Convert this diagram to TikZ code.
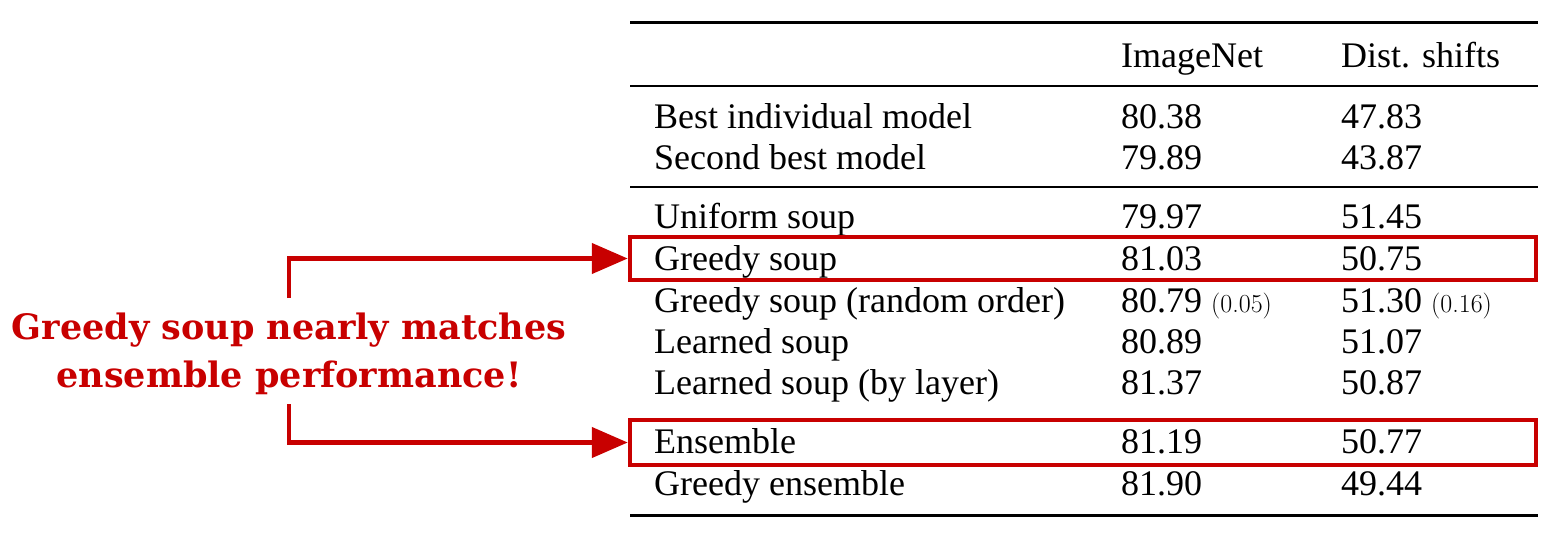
\documentclass[tikz,border=0pt]{standalone}
\usepackage{fontspec}
\newfontfamily\tms{Liberation Serif}
\newfontfamily\slab{DejaVu Serif}
\usetikzlibrary{arrows.meta}
\definecolor{rd}{RGB}{200,0,0}
\begin{document}
\begin{tikzpicture}[x=1pt,y=-1pt,
  cell/.style={anchor=base west,inner sep=0pt,font=\tms\fontsize{36}{40}\selectfont},
  redbox/.style={draw=rd,line width=4.5pt,minimum width=906pt,inner sep=0pt},
  callarrow/.style={draw=rd,line width=4.5pt,-{Triangle[length=36pt,width=30pt]}}]
\useasboundingbox (0,0) rectangle (1564,544);
\draw[line width=3pt] (630,22) -- (1538,22);
\draw[line width=2pt] (630,86) -- (1538,86);
\draw[line width=2pt] (630,187) -- (1538,187);
\draw[line width=3pt] (630,515) -- (1538,515);
\newcommand\sml[1]{{\normalfont\fontsize{26}{30}\selectfont #1}}
\node[cell] (h1) at (1121,67) {ImageNet};
\node[cell] (h2) at (1341,67) {Dist. shifts};
\foreach \y/\n/\a/\b [count=\i] in {
 128/Best individual model/80.38/47.83,
 169/Second best model/79.89/43.87,
 228/Uniform soup/79.97/51.45,
 270/Greedy soup/81.03/50.75,
 312/Greedy soup (random order)/{80.79 \sml{(0.05)}}/{51.30 \sml{(0.16)}},
 353/Learned soup/80.89/51.07,
 394/Learned soup (by layer)/81.37/50.87,
 453/Ensemble/81.19/50.77,
 495/Greedy ensemble/81.90/49.44}{
 \node[cell] (n\i) at (654,\y) {\n};
 \node[cell] (a\i) at (1121,\y) {\a};
 \node[cell] (b\i) at (1341,\y) {\b};
}
\node[redbox,minimum height=43pt] (gbox) at (1083,258.5) {};
\node[redbox,minimum height=45pt] (ebox) at (1083,442.5) {};
\node[text=rd,align=center,font=\slab\bfseries\fontsize{35}{48}\selectfont,inner sep=0pt] (call) at (289,354) {Greedy soup nearly matches\\ensemble performance!};
\coordinate (c1) at (289,298);
\coordinate (c2) at (289,404);
\draw[callarrow] (c1) |- (gbox.west);
\draw[callarrow] (c2) |- (ebox.west);
\end{tikzpicture}
\end{document}
